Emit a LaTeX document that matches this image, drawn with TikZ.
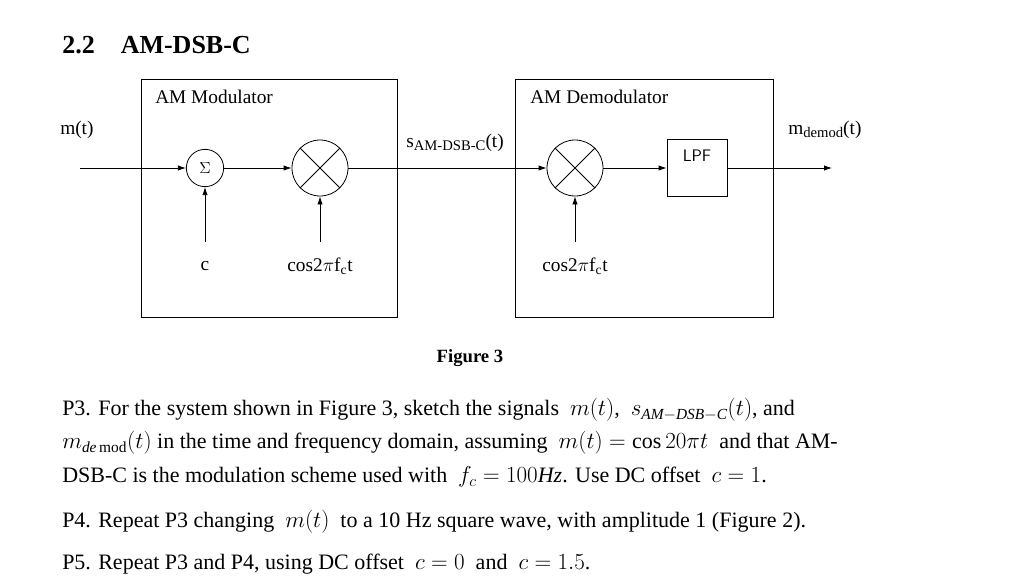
\documentclass[tikz,border=0pt]{standalone}
\usepackage{fontspec}
\setmainfont{Liberation Serif}
\usetikzlibrary{arrows.meta}
\begin{document}
\begin{tikzpicture}[x=0.75pt,y=-0.75pt,
  blk/.style={draw,line width=0.6pt},
  sig/.style={line width=0.6pt,-{Latex[length=6pt,width=4pt]}},
  lbl/.style={font=\fontsize{14.5}{16}\selectfont,inner sep=0pt},
  txt/.style={font=\fontsize{16.5}{19}\selectfont,anchor=west,inner sep=0pt},
  mix/.style={circle,draw,line width=0.6pt,minimum size=42pt,inner sep=0pt}]
\useasboundingbox (0,0) rectangle (1024,585);
\node[anchor=west,font=\fontsize{19.5}{22}\selectfont\bfseries,inner sep=0pt] (title) at (62,45) {2.2\quad AM-DSB-C};
\node[blk,minimum width=192pt,minimum height=178pt,inner sep=0pt] (mod) at (269,198.5) {};
\node[blk,minimum width=193pt,minimum height=178pt,inner sep=0pt] (dem) at (644.5,198.5) {};
\node[lbl,anchor=west] (modl) at (155,97) {AM Modulator};
\node[lbl,anchor=west] (deml) at (530,97) {AM Demodulator};
\node[lbl,anchor=west] (m) at (60,130) {m(t)};
\coordinate (in) at (80,168);
\node[circle,draw,line width=0.6pt,minimum size=28pt,inner sep=0pt,font=\fontsize{12}{12}\selectfont] (sum) at (205,168) {$\Sigma$};
\node[mix] (x1) at (320,168) {};
\node[mix] (x2) at (575,168) {};
\foreach \n in {x1,x2}{
  \draw[line width=0.6pt] (\n.north west)--(\n.south east) (\n.north east)--(\n.south west);}
\node[blk,minimum width=45pt,minimum height=43pt,inner sep=0pt] (lpf) at (697,168) {};
\node[font=\fontsize{12.5}{13}\selectfont\sffamily] (lpft) at (697,156) {LPF};
\coordinate (out) at (832,168);
\draw[sig] (in)--(sum);
\draw[sig] (sum)--(x1);
\draw[sig] (x1)--(x2);
\draw[sig] (x2)--(lpf);
\draw[sig] (lpf)--(out);
\node[lbl] (c) at (205,266) {c};
\node[lbl] (cos1) at (320,266) {cos2$\pi$f$_{\mathrm c}$t};
\node[lbl] (cos2) at (575,266) {cos2$\pi$f$_{\mathrm c}$t};
\coordinate (c0) at (205,242);
\coordinate (k1) at (320,242);
\coordinate (k2) at (575,242);
\draw[sig] (c0)--(sum);
\draw[sig] (k1)--(x1);
\draw[sig] (k2)--(x2);
\node[lbl] (s) at (455,143) {s\raisebox{-0.3ex}{\fontsize{11}{12}\selectfont AM-DSB-C}(t)};
\node[lbl,anchor=west] (md) at (788,130) {m\raisebox{-0.3ex}{\fontsize{11}{12}\selectfont demod}(t)};
\node[font=\fontsize{14}{16}\selectfont\bfseries,inner sep=0pt] (fig) at (470,358) {Figure 3};
\node[txt] (l1) at (62,410) {P3. For the system shown in Figure 3, sketch the signals \ $m(t)$, \ $s_{\mathit{AM-DSB-C}}(t)$, and};
\node[txt] (l2) at (62,443) {$m_{\mathit{de}\,\mathrm{mod}}(t)$ in the time and frequency domain, assuming \ $m(t)=\cos 20\pi t$ \ and that AM-};
\node[txt] (l3) at (62,477) {DSB-C is the modulation scheme used with \ $f_c=100\mathit{Hz}$. Use DC offset \ $c=1$.};
\node[txt] (l4) at (62,522) {P4. Repeat P3 changing \ $m(t)$ \ to a 10 Hz square wave, with amplitude 1 (Figure 2).};
\node[txt] (l5) at (62,564) {P5. Repeat P3 and P4, using DC offset \ $c=0$ \ and \ $c=1.5$.};
\end{tikzpicture}
\end{document}
